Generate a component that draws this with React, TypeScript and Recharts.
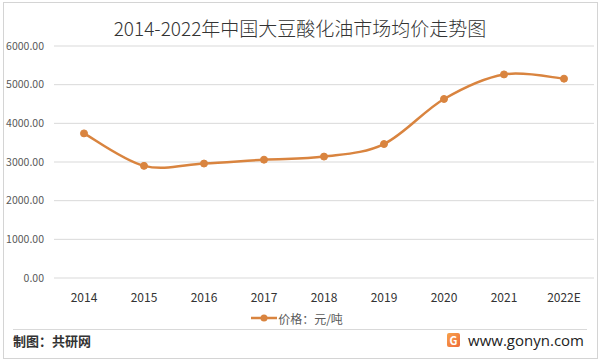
import React from "react";
import { CartesianGrid, Legend, Line, LineChart, XAxis, YAxis } from "recharts";

const years = ["2014", "2015", "2016", "2017", "2018", "2019", "2020", "2021", "2022E"];
const prices = [3740, 2900, 2960, 3060, 3140, 3465, 4630, 5265, 5155];
const yTicks = [0, 1000, 2000, 3000, 4000, 5000, 6000];

const data = years.map((year, i) => ({ year, price: prices[i] }));

const LINE_COLOR = "#D9843F";

// Excel-style smoothed line (Catmull-Rom through the points)
function smoothCurve(context: any) {
  let pts: [number, number][] = [];
  return {
    areaStart() {},
    areaEnd() {},
    lineStart() {
      pts = [];
    },
    point(x: number, y: number) {
      pts.push([+x, +y]);
    },
    lineEnd() {
      if (!pts.length) return;
      context.moveTo(pts[0][0], pts[0][1]);
      const t = 1 / 6;
      for (let i = 0; i < pts.length - 1; i++) {
        const p0 = pts[i - 1] || pts[i];
        const p1 = pts[i];
        const p2 = pts[i + 1];
        const p3 = pts[i + 2] || p2;
        context.bezierCurveTo(
          p1[0] + (p2[0] - p0[0]) * t,
          p1[1] + (p2[1] - p0[1]) * t,
          p2[0] - (p3[0] - p1[0]) * t,
          p2[1] - (p3[1] - p1[1]) * t,
          p2[0],
          p2[1]
        );
      }
    },
  };
}

function LegendContent() {
  return (
    <div style={{ display: "flex", justifyContent: "center", alignItems: "center", height: 18 }}>
      <svg width={26} height={10}>
        <line x1={0} y1={5} x2={26} y2={5} stroke={LINE_COLOR} strokeWidth={2.5} />
        <circle cx={13} cy={5} r={3.5} fill={LINE_COLOR} />
      </svg>
      <span style={{ fontSize: 12, color: "#595959", marginLeft: 1 }}>价格：元/吨</span>
    </div>
  );
}

export default function App() {
  const font = '"Noto Sans CJK SC", "Noto Sans", sans-serif';
  return (
    <div
      style={{
        position: "absolute",
        left: 0,
        top: 0,
        width: 600,
        height: 363,
        background: "#fff",
        fontFamily: font,
        overflow: "hidden",
      }}
    >
      <div
        style={{
          position: "absolute",
          left: 3,
          top: 2,
          width: 593,
          height: 355,
          border: "1px solid #d4d4d4",
        }}
      />
      <div
        style={{
          position: "absolute",
          top: 14,
          left: 0,
          width: 600,
          textAlign: "center",
          fontSize: 19,
          fontWeight: 300,
          color: "#333",
          lineHeight: "28px",
        }}
      >
        2014-2022年中国大豆酸化油市场均价走势图
      </div>
      <LineChart
        width={600}
        height={363}
        data={data}
        margin={{ top: 46, right: 6, bottom: 36, left: 0 }}
        style={{ position: "absolute", left: 0, top: 0 }}
      >
        <CartesianGrid stroke="#d9d9d9" vertical={false} />
        <XAxis
          dataKey="year"
          axisLine={false}
          tickLine={false}
          height={31}
          padding={{ left: 30, right: 30 }}
          tick={{ fill: "#333", fontSize: 12, fontFamily: font }}
          tickMargin={9}
          interval={0}
        />
        <YAxis
          width={54}
          domain={[0, 6000]}
          ticks={yTicks}
          axisLine={false}
          tickLine={false}
          tickSize={0}
          tickMargin={10}
          tickFormatter={(v: number) => v.toFixed(2)}
          tick={{ fill: "#595959", fontSize: 10.5, fontFamily: font }}
        />
        <Legend verticalAlign="bottom" height={18} content={<LegendContent />} />
        <Line
          dataKey="price"
          name="价格：元/吨"
          type={smoothCurve as any}
          stroke={LINE_COLOR}
          strokeWidth={2.5}
          dot={{ r: 3.5, fill: LINE_COLOR, stroke: LINE_COLOR, strokeWidth: 1 }}
          isAnimationActive={false}
        />
      </LineChart>
      <div
        style={{
          position: "absolute",
          left: 13,
          top: 329,
          width: 574,
          borderTop: "1px solid #d9d9d9",
        }}
      />
      <div
        style={{
          position: "absolute",
          left: 13,
          top: 331,
          fontSize: 13,
          fontWeight: 700,
          color: "#333",
          lineHeight: "20px",
        }}
      >
        制图：共研网
      </div>
      <div
        style={{
          position: "absolute",
          right: 16,
          top: 330,
          display: "flex",
          alignItems: "center",
          fontSize: 15,
          color: "#222",
          lineHeight: "20px",
        }}
      >
        <div
          style={{
            width: 13,
            height: 14,
            borderRadius: 2,
            background: "linear-gradient(135deg, #f7a24a, #ef6a3a)",
            color: "#fff",
            fontSize: 11,
            fontWeight: 700,
            textAlign: "center",
            lineHeight: "14px",
            marginRight: 8,
          }}
        >
          G
        </div>
        <span style={{ fontFamily: '"Open Sans", sans-serif' }}>www.gonyn.com</span>
      </div>
    </div>
  );
}
